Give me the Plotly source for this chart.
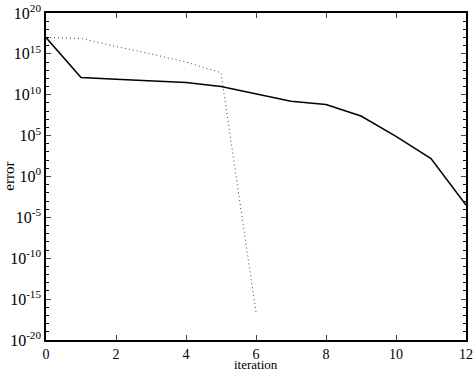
import plotly.graph_objects as go

iterations_solid = [0, 1, 2, 3, 4, 5, 6, 7, 8, 9, 10, 11, 12]
log_error_solid = [17.0, 12.1, 11.9, 11.7, 11.5, 11.0, 10.1, 9.2, 8.8, 7.4, 4.9, 2.2, -3.5]

iterations_dotted = [0, 1, 2, 3, 4, 5, 6]
log_error_dotted = [17.0, 16.9, 15.9, 15.0, 14.0, 12.7, -16.6]

x_ticks = [0, 2, 4, 6, 8, 10, 12]
y_tick_exponents = [-20, -15, -10, -5, 0, 5, 10, 15, 20]

err_solid = [10 ** v for v in log_error_solid]
err_dotted = [10 ** v for v in log_error_dotted]
y_tickvals = [10.0 ** e for e in y_tick_exponents]
y_ticktext = ["10<sup>%d</sup>" % e for e in y_tick_exponents]
minor_vals = [10.0 ** e for e in range(-20, 21) if e % 5 != 0]

font_family = "Liberation Serif, Times New Roman, serif"

fig = go.Figure()
fig.add_trace(go.Scatter(x=iterations_solid, y=err_solid, mode="lines",
                         line=dict(color="black", width=1.5), showlegend=False))
fig.add_trace(go.Scatter(x=iterations_dotted, y=err_dotted, mode="lines",
                         line=dict(color="#444444", width=1, dash="1px,3px"), showlegend=False))

fig.update_layout(
    width=474, height=375,
    margin=dict(l=46, r=8, t=13, b=35),
    paper_bgcolor="white", plot_bgcolor="white",
    font=dict(family=font_family, size=16, color="black"),
)
fig.update_xaxes(
    range=[0, 12], tickvals=x_ticks, ticks="inside", ticklen=5,
    showline=True, linecolor="black", linewidth=1.5, mirror="ticks",
    showgrid=False, zeroline=False, automargin=False,
    tickfont=dict(size=14),
)
fig.update_yaxes(
    type="log", range=[-20.002, 20.002],
    tickvals=y_tickvals, ticktext=y_ticktext,
    ticks="inside", ticklen=5,
    minor=dict(tickvals=minor_vals, ticks="inside", ticklen=3, tickcolor="black"),
    showline=True, linecolor="black", linewidth=1.5, mirror="ticks",
    showgrid=False, zeroline=False, automargin=False,
    tickfont=dict(size=16),
)
fig.add_annotation(text="iteration", xref="paper", yref="paper", x=0.5, y=-0.104,
                   xanchor="center", yanchor="bottom", showarrow=False, font=dict(size=13))
fig.add_annotation(text="error", xref="paper", yref="paper", x=-0.090, y=0.5,
                   xanchor="center", yanchor="middle", textangle=-90, showarrow=False,
                   font=dict(size=15))

fig.write_html("out.html", config={"displayModeBar": False},
               post_script="document.body.style.margin='0';document.body.style.overflow='hidden';")
